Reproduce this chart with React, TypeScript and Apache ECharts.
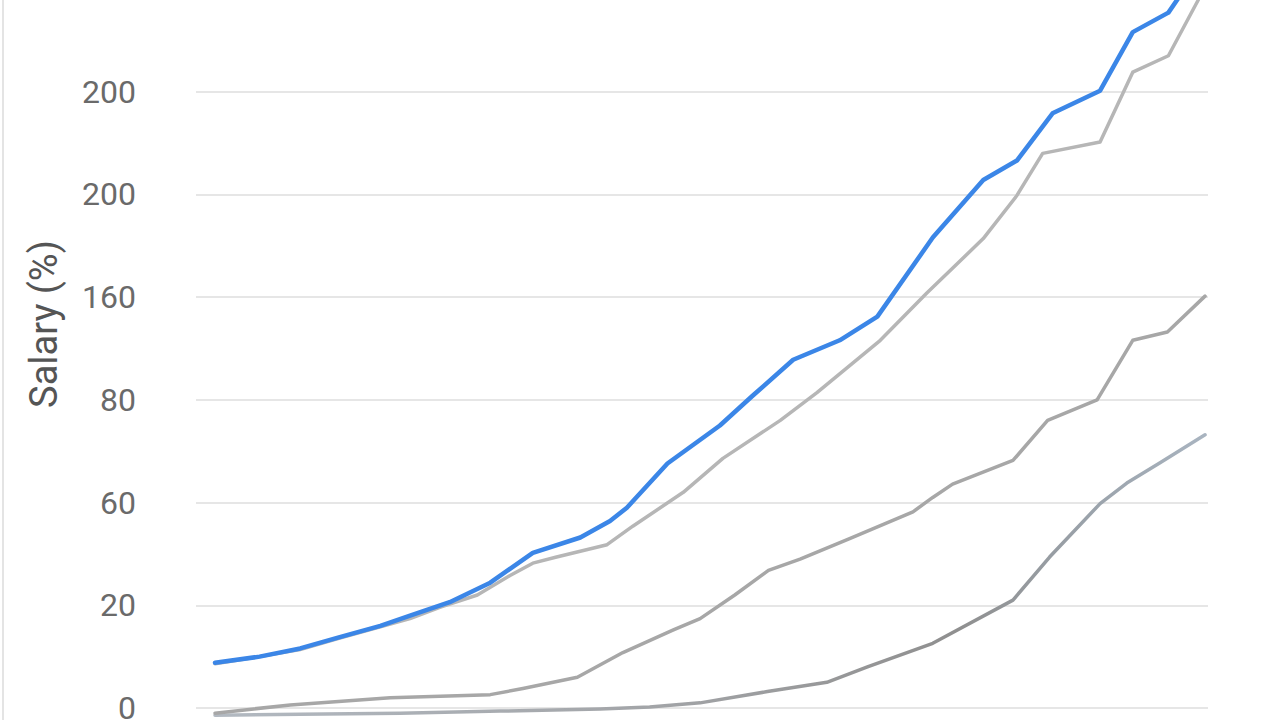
import React, { useEffect, useRef } from "react";
import * as echarts from "echarts";

// Y tick labels as printed on the chart (one per gridline, bottom to top)
const yTickLabels = ["0", "20", "60", "80", "160", "200", "200", "240"];

// Series: [x (0-100 along the career span), y (position in gridline steps)]
const salaryBlue: number[][] = [
  [0, 0.44], [4.5, 0.5], [8.6, 0.58], [12.6, 0.69], [16.7, 0.8], [19.7, 0.9],
  [23.7, 1.03], [27.8, 1.22], [32.1, 1.51], [36.9, 1.66], [39.9, 1.82],
  [41.6, 1.95], [45.7, 2.38], [51.0, 2.75], [54.3, 3.04], [58.4, 3.39],
  [63.1, 3.58], [66.9, 3.81], [72.5, 4.58], [77.6, 5.14], [81.0, 5.33],
  [84.6, 5.79], [89.4, 6.01], [92.7, 6.58], [96.3, 6.77], [98.5, 7.08],
];

const salaryLight: number[][] = [
  [0, 0.43], [4.5, 0.5], [8.6, 0.57], [12.6, 0.68], [16.7, 0.79], [19.7, 0.87],
  [22.7, 0.98], [26.5, 1.1], [29.8, 1.29], [32.1, 1.41], [34.5, 1.47],
  [39.6, 1.59], [42.2, 1.77], [47.3, 2.1], [51.3, 2.43], [57.1, 2.8],
  [60.8, 3.07], [67.2, 3.58], [71.9, 4.04], [77.6, 4.57], [81.0, 4.99],
  [83.6, 5.4], [89.4, 5.51], [92.7, 6.19], [96.3, 6.35], [99.3, 6.89], [100, 7.04],
];

const salaryMid: number[][] = [
  [0, -0.05], [7.6, 0.03], [17.7, 0.1], [27.8, 0.13], [31.1, 0.19], [36.6, 0.3],
  [41.2, 0.54], [46.3, 0.76], [49.0, 0.87], [52.5, 1.1], [55.9, 1.34],
  [59.1, 1.45], [64.1, 1.65], [70.5, 1.91], [72.5, 2.05], [74.5, 2.18],
  [80.6, 2.41], [84.1, 2.8], [89.1, 3.0], [92.7, 3.58], [96.2, 3.66], [100, 4.01],
];

const salaryLow: number[][] = [
  [0, -0.07], [8.6, -0.06], [18.7, -0.05], [28.8, -0.03], [38.9, -0.01],
  [43.9, 0.01], [49.0, 0.05], [55.8, 0.16], [61.8, 0.25], [65.9, 0.4],
  [72.5, 0.63], [80.6, 1.05], [84.3, 1.47], [89.4, 1.99], [92.1, 2.19],
  [95.5, 2.39], [100, 2.66],
];

const yAxisTitle = "Salary (%)";

export default function App() {
  const ref = useRef<HTMLDivElement>(null);

  useEffect(() => {
    document.body.style.margin = "0";
    if (!ref.current) return;
    const chart = echarts.init(ref.current, undefined, { renderer: "svg" });

    const lineSeries = (data: number[][], color: any, width: number, z: number) => ({
      type: "line",
      data,
      showSymbol: false,
      symbol: "none",
      clip: false,
      z,
      lineStyle: { color, width, cap: "round", join: "round" },
      emphasis: { disabled: true },
    });

    chart.setOption({
      animation: false,
      backgroundColor: "#ffffff",
      grid: {
        left: 196,
        right: 72,
        top: -11,
        bottom: 12,
        containLabel: false,
        outerBoundsMode: "none",
      },
      xAxis: {
        type: "value",
        min: -1.92,
        max: 100.3,
        show: false,
      },
      yAxis: {
        type: "value",
        min: 0,
        max: 7,
        interval: 1,
        axisLine: { show: false },
        axisTick: { show: false },
        axisLabel: {
          formatter: (v: number) => yTickLabels[Math.round(v)] ?? "",
          color: "#6a6a6a",
          fontSize: 32,
          fontFamily: "Roboto",
          margin: 60,
        },
        splitLine: { lineStyle: { color: "#dedede", width: 1.5 } },
      },
      graphic: [
        {
          type: "line",
          shape: { x1: 3, y1: 0, x2: 3, y2: 720 },
          style: { stroke: "#e4e4e4", lineWidth: 2 },
        },
        {
          type: "text",
          x: 44,
          y: 324,
          rotation: Math.PI / 2,
          style: {
            text: yAxisTitle,
            fill: "#555555",
            fontSize: 38,
            fontFamily: "Roboto",
            textAlign: "center",
            textVerticalAlign: "middle",
          },
        },
      ],
      series: [
        lineSeries(
          salaryLow,
          {
            type: "linear", x: 0, y: 0, x2: 1, y2: 0,
            colorStops: [
              { offset: 0, color: "#b2b9c1" },
              { offset: 0.45, color: "#a2a4a7" },
              { offset: 0.75, color: "#8f8f8f" },
              { offset: 0.88, color: "#9aa2aa" },
              { offset: 1, color: "#a9b4c0" },
            ],
          },
          3.5,
          2
        ),
        lineSeries(salaryMid, "#a7a7a7", 3.5, 3),
        lineSeries(salaryLight, "#b6b6b6", 3.5, 4),
        lineSeries(salaryBlue, "#3b86e7", 4.5, 5),
      ],
    });

    return () => chart.dispose();
  }, []);

  return (
    <div
      ref={ref}
      style={{ position: "fixed", left: 0, top: 0, width: 1280, height: 720 }}
    />
  );
}
